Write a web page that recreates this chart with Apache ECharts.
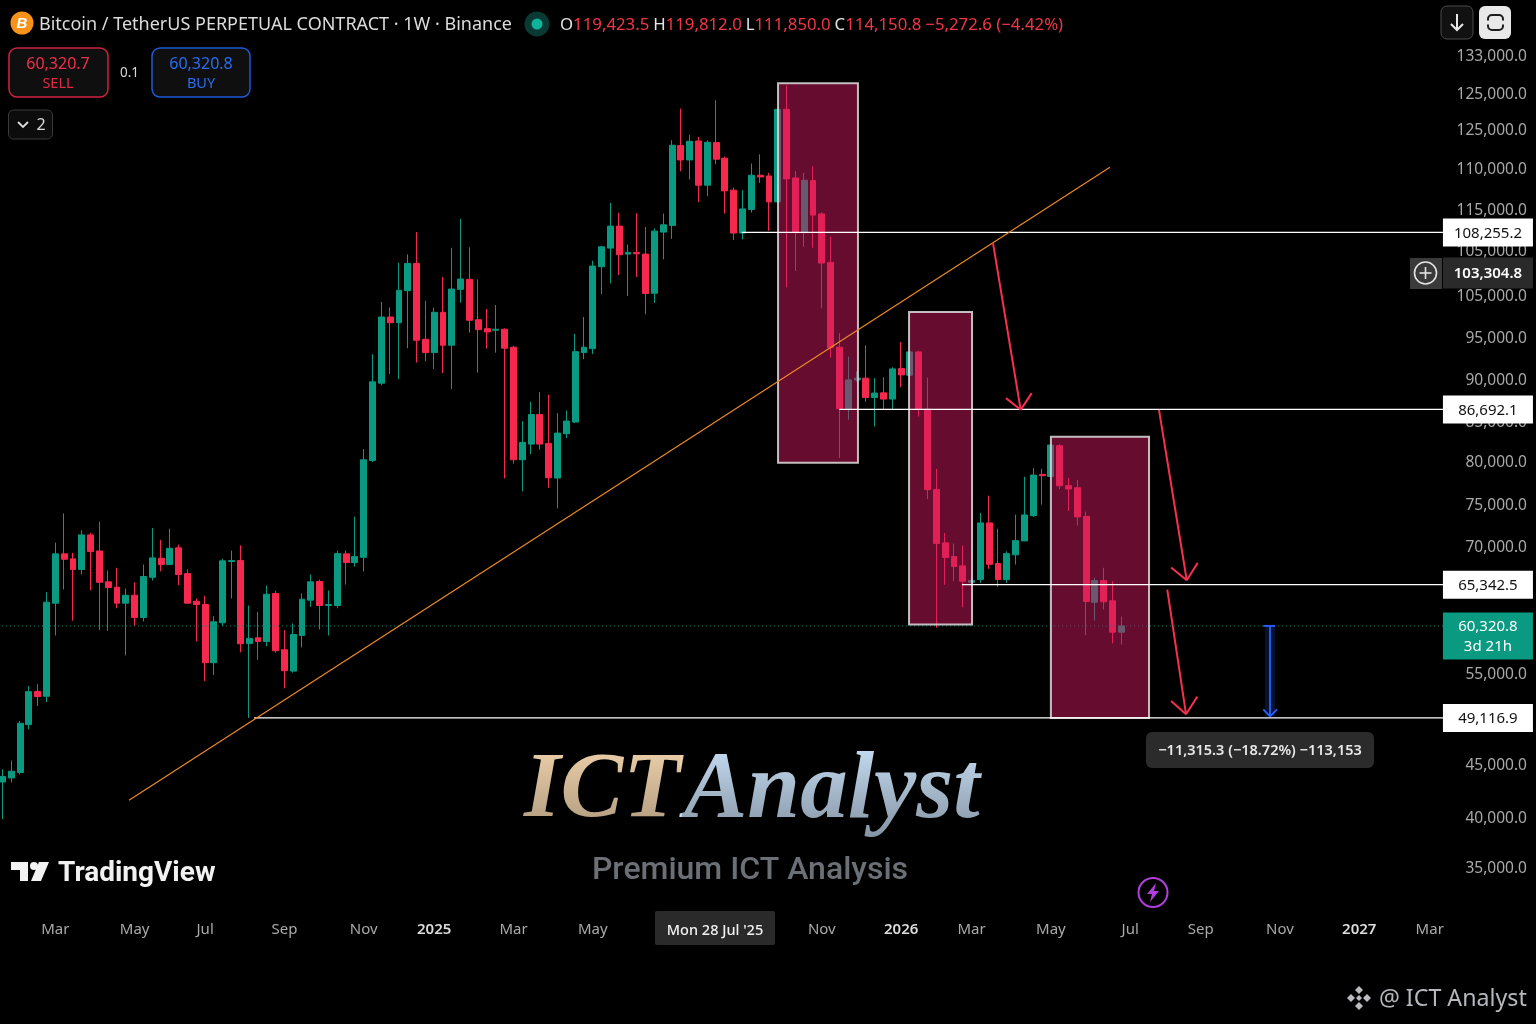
<!DOCTYPE html>
<html><head><meta charset="utf-8">
<style>html,body{margin:0;padding:0;background:#000}#c{width:1536px;height:1024px}</style>
<script src="https://cdn.jsdelivr.net/npm/echarts@6/dist/echarts.min.js"></script>
</head><body><div id="c"></div>
<script>
const opens=[41320,41810,42470,48300,52350,51750,63090,69100,68490,67190,
71410,69460,65690,65040,63090,64060,61350,66250,68560,67800,
69830,66700,63330,62930,55840,60710,68160,68280,58190,58880,
58430,64270,57420,54820,59160,63460,65730,62810,62810,69100,
68040,68680,80480,89890,97950,97260,101150,104480,95240,93610,
98520,94510,101320,102540,97620,96530,96340,96460,94270,80560,
82470,86070,82550,78340,83730,85150,93610,94100,104070,106340,
109020,105610,105820,105610,100840,108290,109100,118830,117080,119390,
114000,119200,117290,113400,108170,111050,115220,115130,111970,123250,
114890,108250,114580,110510,104600,94270,86770,90290,90500,88140,
88710,87950,91670,90860,93700,86730,76950,70440,68770,67640,
65640,65970,72870,67920,65970,68980,70680,73750,78780,78530,
82270,77400,77160,73670,63210,65850,63380,59560];
const closes=[41980,42630,48460,52320,51710,63210,69100,68440,67190,71410,
69380,65640,65000,63090,64060,61350,66340,68610,67800,69780,
66580,63090,62930,55840,60830,68250,68280,58150,58800,58430,
64180,57300,54870,59280,63580,65690,62810,62930,69130,68040,
68770,80560,90050,97950,97260,101200,104480,95120,93610,98520,
94510,101360,102570,97550,96410,96130,96460,94150,80560,82670,
86070,82470,78380,83810,85270,93730,94270,104150,106500,109020,
105530,105820,105650,100810,108410,109180,118870,117080,119350,114000,
119230,117170,113310,108170,111120,115220,115010,111970,123250,114770,
108250,114610,110360,104520,94220,86770,90290,90500,88140,88680,
87950,91630,90900,93700,86730,76920,70350,68650,67550,65770,
65850,72870,67830,65970,69130,70710,73840,78700,78620,82350,
77400,77000,73600,63300,65850,63260,59560,60320];
const lows=[36790,41250,42220,47730,50570,51050,59160,64760,60950,66580,
64670,59810,59730,62480,56730,60290,60870,65850,66980,67800,
65280,63050,58430,53600,54340,60290,63660,57100,49120,56210,
57830,57060,52720,54630,57700,62650,59890,59160,62480,65360,
67550,66950,80280,89600,91020,90380,94150,92400,92570,91630,
91110,89160,99690,96040,91180,94100,93610,78290,80080,76710,
81260,81780,77160,74640,83200,85030,92810,93450,100750,102050,
103060,100510,102820,98280,99660,104970,107470,115710,114700,111940,
112670,116560,110560,107320,107400,110680,114280,108450,111940,101560,
103550,106500,106380,99010,93000,80770,85430,90090,87620,84610,
86640,86730,89400,89890,85830,75790,60100,65330,65770,62600,
65160,65570,67270,65080,65570,67800,70680,73600,75090,78530,
77000,74330,72540,59200,60990,62320,58190,58070];
const highs=[42870,43930,48740,53000,53240,64430,70470,74030,69220,71970,
71650,73030,67070,67400,64880,65640,67800,72260,70800,72170,
70230,67220,63660,63990,61510,68490,69500,70140,62810,62000,
65240,64630,59810,60620,64270,66580,65970,64630,69500,69540,
73630,81870,93420,99780,99130,104560,105580,108290,99940,99080,
102820,106380,109910,106430,102540,98930,99410,96580,94460,85270,
87620,88800,88470,86240,86560,95890,97950,104800,106620,111850,
110640,106790,110600,108900,108740,110560,119480,123330,120170,119880,
119480,124340,117490,113720,113400,116640,117770,115500,123330,126160,
115740,115500,116310,110680,107720,95970,93130,91300,94510,90500,
90620,91840,94910,93730,93860,90570,79470,71650,70350,70110,
66370,74080,76190,72170,69410,73880,78500,79560,79470,82390,
82470,78340,78100,74240,66180,67400,65770,61470];

const xTickDates=['2024-03-04','2024-05-06','2024-07-01','2024-09-02','2024-11-04','2024-12-30','2025-03-03','2025-05-05','2025-07-07','2025-09-01','2025-11-03','2026-01-05','2026-03-02','2026-05-04','2026-07-06','2026-08-31','2026-11-02','2027-01-04','2027-03-01'];
const xTickLabels=['Mar','May','Jul','Sep','Nov','2025','Mar','May','Jul','Sep','Nov','2026','Mar','May','Jul','Sep','Nov','2027','Mar'];
const yTickValues=[129693,125065,120680,115930,110936,105942,100461,95345,90230,85114,80242,75005,69889,64652,59536,54421,49030,43337,36883,30791];
const yTickLabels=['133,000.0','125,000.0','125,000.0','110,000.0','115,000.0','105,000.0','105,000.0','95,000.0','90,000.0','85,000.0','80,000.0','75,000.0','70,000.0','65,000.0','60,000.0','55,000.0','50,000.0','45,000.0','40,000.0','35,000.0'];

const levelPrices=[108255.2,86692.1,65342.5,49116.9];
const levelLabels=['108,255.2','86,692.1','65,342.5','49,116.9'];
const levelStarts=[83.9,95,108.9,28.55];
const lastPrice=60320.8, hoverPrice=103304.8, AXIS_END=163.5;
const boxes=[[88.03,97.1,126407,80199],[102.9,110.05,98561,60500],[119.0,130.14,83361,49116.9]];
const trendLine=[[14.36,39098,125.7,116193]];
const redArrows=[
 [112.43,106951,115.57,86644],[113.9,88067,115.57,86644],[116.82,88675,115.57,86644],
 [131.27,86644,134.42,65887],[132.64,67431,134.42,65887],[135.66,68003,134.42,65887],
 [132.21,64756,134.34,49556],[132.64,51173,134.34,49556],[135.62,51708,134.34,49556]];
const blueArrow=[[143.87,60320.8,143.87,49300],[143.11,60320.8,144.44,60320.8],[143.11,50164,143.87,49300],[144.67,50164,143.87,49300]];
const blueBand=[[143.3,144.44,60320.8,49300]];

const UP='#0a9981',DOWN='#f6284e',FONT='"Noto Sans",sans-serif';
const categories=[];
for(let i=0;i<164;i++){categories.push(new Date(Date.UTC(2024,0,22+7*i)).toISOString().slice(0,10));}
const candles=opens.map((o,i)=>[o,closes[i],lows[i],highs[i]]);

function segs(name,data,style,z){return {name,type:'custom',xAxisIndex:1,yAxisIndex:0,coordinateSystem:'cartesian2d',z,silent:true,clip:false,animation:false,
 data,encode:{x:[0,2],y:[1,3]},
 renderItem(p,api){const a=api.coord([api.value(0),api.value(1)]),b=api.coord([api.value(2),api.value(3)]);
  return {type:'line',shape:{x1:a[0],y1:a[1],x2:b[0],y2:b[1]},style:Object.assign({fill:null},style)};}};}
function rects(name,data,style,z){return {name,type:'custom',xAxisIndex:1,yAxisIndex:0,coordinateSystem:'cartesian2d',z,silent:true,clip:false,animation:false,
 data,encode:{x:[0,1],y:[2,3]},
 renderItem(p,api){const a=api.coord([api.value(0),api.value(2)]),b=api.coord([api.value(1),api.value(3)]);
  return {type:'rect',shape:{x:a[0],y:a[1],width:b[0]-a[0],height:b[1]-a[1]},style};}};}
function tag(name,price,lines,h,bg,fg,bold,dy){return {name,type:'custom',xAxisIndex:1,yAxisIndex:0,coordinateSystem:'cartesian2d',z:8,silent:true,clip:false,animation:false,
 data:[[AXIS_END,price]],encode:{x:0,y:1},
 renderItem(p,api){const c=api.coord([api.value(0),api.value(1)]);
  return {type:'group',children:[
   {type:'rect',shape:{x:c[0],y:c[1]-h/2+(dy||0),width:90,height:h},style:{fill:bg}},
   {type:'text',style:{x:c[0]+45,y:c[1]+(dy||0)+1,text:lines,fill:fg,font:(bold?'600 ':'')+'15px '+FONT,align:'center',verticalAlign:'middle',lineHeight:20}}]};}};}

const hlineRows=levelPrices.map((p,i)=>[levelStarts[i],p,AXIS_END,p]);
const series=[
 {name:'BTCUSDT',type:'candlestick',data:candles,xAxisIndex:0,yAxisIndex:0,barWidth:6.4,z:2,animation:false,silent:true,
  itemStyle:{color:UP,color0:DOWN,borderColor:UP,borderColor0:DOWN,borderWidth:1}},
 segs('last',[[-0.5,lastPrice,AXIS_END,lastPrice]],{stroke:'#0e8570',lineWidth:1,lineDash:[1,3]},3),
 rects('boxes',boxes,{fill:'rgba(202,24,94,0.5)',stroke:'rgba(222,222,222,0.85)',lineWidth:2},4),
 segs('levels',hlineRows,{stroke:'#ffffff',lineWidth:1.2},5),
 segs('trend',trendLine,{stroke:'#f08c26',lineWidth:1.1},5),
 segs('arrows',redArrows,{stroke:'#f7304e',lineWidth:2},6),
 rects('blueBand',blueBand,{fill:'rgba(41,98,255,0.18)'},5),
 segs('blue',blueArrow,{stroke:'#2962ff',lineWidth:1.8},6)
];
levelPrices.forEach((p,i)=>series.push(tag('tag'+i,p,levelLabels[i],28,'#ffffff','#111111',false)));
series.push(tag('tagLast',lastPrice,'60,320.8\n3d 21h',47,'#0a9981','#ffffff',false,10));
series.push(tag('tagHover',hoverPrice,'103,304.8',31,'#2a2a2a','#ffffff',true));

const T=(x,y,text,o)=>({type:'text',z:20,silent:true,style:Object.assign({x,y,text,fill:'#d8d8d8',font:'15px '+FONT,textVerticalAlign:'middle'},o||{})});
const R=(x,y,w,h,r,fill,stroke,lw)=>({type:'rect',z:19,silent:true,shape:{x,y,width:w,height:h,r},style:{fill,stroke,lineWidth:lw||0}});
const PL=(pts,stroke,lw)=>({type:'polyline',z:20,silent:true,shape:{points:pts},style:{fill:null,stroke,lineWidth:lw||2}});
const PG=(pts,fill)=>({type:'polygon',z:20,silent:true,shape:{points:pts},style:{fill}});
const C=(cx,cy,r,fill,stroke,lw)=>({type:'circle',z:20,silent:true,shape:{cx,cy,r},style:{fill,stroke,lineWidth:lw||0}});
const diamond=(cx,cy,r)=>PG([[cx,cy-r],[cx+r,cy],[cx,cy+r],[cx-r,cy]],'#b9bdc2');
const shade=(x,y,w,h,a)=>({type:'rect',z:21,silent:true,shape:{x,y,width:w,height:h},style:{fill:{type:'linear',x:0,y:0,x2:0,y2:1,colorStops:[{offset:0,color:'rgba(0,0,0,0)'},{offset:1,color:'rgba(0,0,0,'+a+')'}]}}});

const graphic=[
 C(22,23,11.5,'#f7931a'),T(22,23.5,'B',{fill:'#fff',font:'italic 700 15px "Liberation Sans"',textAlign:'center'}),
 T(39,24.5,'Bitcoin / TetherUS PERPETUAL CONTRACT · 1W · Binance',{font:'18px '+FONT,fill:'#dcdcdc'}),
 C(537,24,12.5,'#0b3a34'),C(537,24,5.5,'#0fb39a'),
 T(560,25,'{k|O}{r|119,423.5} {k|H}{r|119,812.0} {k|L}{r|111,850.0} {k|C}{r|114,150.8} {r|−5,272.6 (−4.42%)}',{
   rich:{k:{fill:'#e4e4e4',font:'16.8px '+FONT},r:{fill:'#f23645',font:'16.8px '+FONT}}}),
 R(9,48,99,49,8,'#0f0f10','#d2213f',1.5),
 T(58,64,'60,320.7',{fill:'#f2304a',font:'16px '+FONT,textAlign:'center'}),T(58,84,'SELL',{fill:'#e02a45',font:'14.5px '+FONT,textAlign:'center'}),
 T(129.5,73,'0.1',{fill:'#d8d8d8',font:'13.5px '+FONT,textAlign:'center'}),
 R(152,48,98,49,8,'#0f0f10','#1e5ad6',1.5),
 T(201,64,'60,320.8',{fill:'#2a6df0',font:'16px '+FONT,textAlign:'center'}),T(201,84,'BUY',{fill:'#2a6df0',font:'14.5px '+FONT,textAlign:'center'}),
 R(8.5,110,44,29,5,'#0c0c0c','#3a3a3a',1),PL([[18,122],[23,127],[28,122]],'#dcdcdc',1.8),T(41,125,'2',{font:'16px '+FONT,fill:'#dcdcdc',textAlign:'center'}),
 R(1441,6,32,33,6,'#111','#4a4a4a',1),PL([[1457,14],[1457,30]],'#e8e8e8',2),PL([[1451,24],[1457,30],[1463,24]],'#e8e8e8',2),
 R(1479,6,32,33,6,'#e8e8e8'),R(1488,15,15,15,4,'none','#1c1c1c',2),
 {type:'rect',z:20,silent:true,shape:{x:1485,y:20.5,width:21,height:4},style:{fill:'#e8e8e8'}},
 R(1410,258,32,31,0,'#3a3a3a'),C(1425.5,273,11,'none','#e4e4e4',1.6),PL([[1419.5,273],[1431.5,273]],'#e4e4e4',1.6),PL([[1425.5,267],[1425.5,279]],'#e4e4e4',1.6),
 R(1146,732,228,36,6,'#2b2b2b'),T(1260,751,'−11,315.3 (−18.72%) −113,153',{fill:'#e8e8e8',font:'600 14.5px '+FONT,textAlign:'center'}),
 T(524,792,'ICT',{fill:'#eccfa9',font:'italic 700 94px "Liberation Serif"'}),
 T(684,792,'Analyst',{fill:'#c3daf0',font:'italic 700 95px "Liberation Serif"'}),
 shade(520,748,160,80,0.25),shade(682,748,302,100,0.36),
 T(750,871,'Premium ICT Analysis',{fill:'#6b7076',font:'500 32px Roboto',textAlign:'center'}),
 PG([[11,862],[28,862],[28,881],[20,881],[20,870],[11,870]],'#f2f2f2'),C(34,866,4,'#f2f2f2'),PG([[39,862],[49,862],[41,881],[31,881]],'#f2f2f2'),
 T(58,874,'TradingView',{fill:'#f2f2f2',font:'700 28px Roboto'}),
 C(1153,892.5,14.5,'none','#b13fdc',2),PG([[1156,883],[1147,894],[1152,894],[1150,902],[1159,891],[1154,891]],'#b13fdc'),
 R(655,911,120,34,2,'#2a2a2a'),T(715,931,"Mon 28 Jul '25",{fill:'#f2f2f2',font:'500 14.5px '+FONT,textAlign:'center'}),
 diamond(1359,990,4),diamond(1351,998,4),diamond(1367,998,4),diamond(1359,1006,4),diamond(1359,998,3),
 T(1379,999,'@ ICT Analyst',{fill:'#b4b8bd',font:'23.2px '+FONT})
];

const tickMap={};xTickDates.forEach((d,i)=>tickMap[d]=xTickLabels[i]);
const yMap={};yTickValues.forEach((v,i)=>yMap[v]=yTickLabels[i]);
const chart=echarts.init(document.getElementById('c'),null,{renderer:'canvas',width:1536,height:1024});
chart.setOption({
 backgroundColor:'#000',animation:false,
 grid:{left:-1.9,top:0,width:1444.84,height:912,containLabel:false,outerBoundsMode:'none'},
 xAxis:[
  {type:'category',data:categories,boundaryGap:true,axisLine:{show:false},axisTick:{show:false},splitLine:{show:false},
   axisLabel:{color:'#a9a9a9',fontFamily:FONT,fontSize:15,margin:10,interval:(i,v)=>v in tickMap,
    formatter:v=>{const t=tickMap[v]||'';return /^\d/.test(t)?'{y|'+t+'}':t;},
    rich:{y:{color:'#dcdcdc',fontFamily:FONT,fontSize:15,fontWeight:600}}}},
  {type:'value',min:-0.5,max:163.5,show:false,splitLine:{show:false}}
 ],
 yAxis:[{type:'value',position:'right',min:25478,max:136562,scale:true,axisLine:{show:false},axisTick:{show:false},splitLine:{show:false},
  axisLabel:{color:'#a9a9a9',fontFamily:FONT,fontSize:15.5,align:'right',margin:84,customValues:yTickValues,formatter:v=>yMap[v]||''}}],
 series,graphic
});
</script></body></html>
